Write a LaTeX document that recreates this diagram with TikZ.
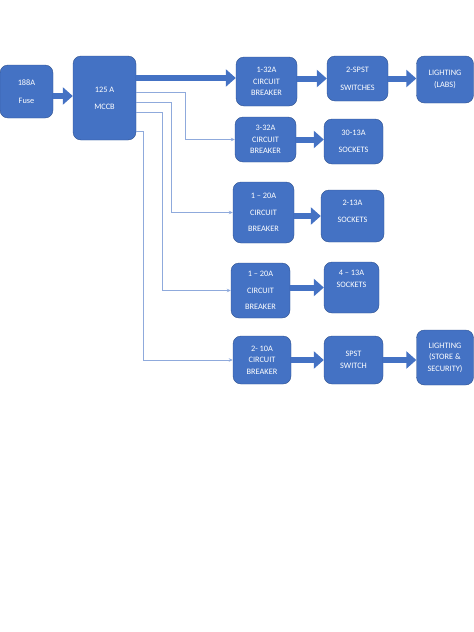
\documentclass[tikz,border=0pt]{standalone}
\usepackage{fontspec}
\setmainfont{Carlito}
\usetikzlibrary{arrows.meta}
\definecolor{boxblue}{HTML}{4472C4}
\definecolor{edgeblue}{HTML}{2F528F}
\definecolor{feedblue}{HTML}{8FAADC}

\begin{document}
\begin{tikzpicture}[x=1pt,y=-1pt,
  box/.style={draw=edgeblue,fill=boxblue,rounded corners=8pt,text=white,align=center,
    font=\fontsize{8.3}{11.5}\selectfont,inner sep=0pt},
  fat/.style={boxblue,line width=6pt,-{Triangle[width=17pt,length=10pt]}},
  feed/.style={feedblue,line width=0.7pt,-{Stealth[length=4pt,width=3.5pt]}}]
\useasboundingbox (0,0) rectangle (474,632);
% supply side
\node[box,minimum width=53pt,minimum height=53pt] (fuse) at (26.5,91.5) {188A\\[6.5pt]Fuse};
\node[box,minimum width=63pt,minimum height=84pt] (mccb) at (104.5,98) {125 A\\[5.5pt]MCCB};
% branch 1
\node[box,minimum width=61pt,minimum height=49pt] (cb1) at (266.5,81.5) {1-32A\\CIRCUIT\\BREAKER};
\node[box,minimum width=61pt,minimum height=45pt] (sw1) at (357.5,78.5) {2-SPST\\[6.5pt]SWITCHES};
\node[box,minimum width=57pt,minimum height=47pt] (l1) at (445,79.5) {LIGHTING\\(LABS)};
% branch 2
\node[box,minimum width=61pt,minimum height=45pt] (cb2) at (265.5,139.5) {3-32A\\CIRCUIT\\BREAKER};
\node[box,minimum width=59pt,minimum height=45pt] (s2) at (353.5,141.5) {30-13A\\[5.5pt]SOCKETS};
% branch 3
\node[box,minimum width=61pt,minimum height=61pt] (cb3) at (263.5,212.5) {1 -- 20A\\[5pt]CIRCUIT\\[5pt]BREAKER};
\node[box,minimum width=63pt,minimum height=52pt] (s3) at (352.5,216) {2-13A\\[5.5pt]SOCKETS\\[-2pt]\mbox{}};
% branch 4
\node[box,minimum width=59pt,minimum height=55pt] (cb4) at (260.5,290.5) {1 -- 20A\\[5pt]CIRCUIT\\[5pt]BREAKER};
\node[box,minimum width=55pt,minimum height=51pt] (s4) at (351.5,287.5) {4 -- 13A\\SOCKETS\\[6pt]\mbox{}};
% branch 5
\node[box,minimum width=58pt,minimum height=48pt] (cb5) at (262,360) {2- 10A\\CIRCUIT\\BREAKER};
\node[box,minimum width=59pt,minimum height=48pt] (sw5) at (353.5,360) {SPST\\SWITCH};
\node[box,minimum width=57pt,minimum height=55pt] (l5) at (445,357.5) {LIGHTING\\(STORE \&\\SECURITY)};

% block arrows
\coordinate (f1) at ([yshift=-4.5pt]fuse.east);
\coordinate (t1) at ([yshift=3.5pt]cb1.west);
\draw[fat] (f1) -- (f1 -| mccb.west);
\draw[fat] (mccb.east |- t1) -- (t1);
\draw[fat] (cb1.east |- sw1.west) -- (sw1.west);
\draw[fat] (sw1.east) -- (sw1.east -| l1.west);
\draw[fat] (cb2.east) -- (cb2.east -| s2.west);
\draw[fat] (cb3.east |- s3.west) -- (s3.west);
\draw[fat] (cb4.east |- s4.west) -- (s4.west);
\draw[fat] (cb5.east) -- (cb5.east -| sw5.west);
\draw[fat] (sw5.east) -- (sw5.east -| l5.west);

% feeders from the MCCB
\draw[feed] ([yshift=6pt]mccb.east) -- ++(49,0) |- (cb2.west);
\draw[feed] ([yshift=-4pt]mccb.east) -- ++(35,0) |- (cb3.west);
\draw[feed] ([yshift=-14pt]mccb.east) -- ++(26,0) |- (cb4.west);
\draw[feed] ([yshift=-33pt]mccb.east) -- ++(7,0) |- (cb5.west);
\end{tikzpicture}
\end{document}
